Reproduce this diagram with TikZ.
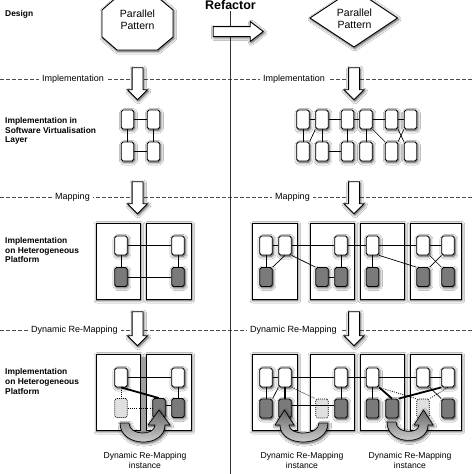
\documentclass[tikz,border=0pt]{standalone}
\usepackage{fontspec}
\setmainfont{Liberation Sans}
\usetikzlibrary{shapes.arrows,shadows.blur,calc}
\begin{document}
\begin{tikzpicture}[x=1pt,y=-1pt,
  sh/.style={blur shadow={shadow xshift=0.9pt,shadow yshift=-1.3pt,shadow blur radius=2.8pt,shadow blur steps=7,shadow opacity=75}},
  wbox/.style={draw,line width=0.8pt,fill=white,rounded corners=1.8pt,minimum width=12.5pt,minimum height=19pt,inner sep=0pt,sh},
  gbox/.style={wbox,fill=black!52},
  ghostbox/.style={draw,line width=0.7pt,dash pattern=on 1pt off 1pt,fill=black!12,rounded corners=1.5pt,minimum width=12.5pt,minimum height=19pt,inner sep=0pt},
  plat/.style={draw,line width=1pt,fill=white,minimum height=76pt,inner sep=0pt,sh},
  conn/.style={line width=0.7pt},
  heavy/.style={line width=1.8pt},
  dotconn/.style={line width=0.7pt,dash pattern=on 1pt off 1.2pt},
  darrow/.style={single arrow,draw,fill=white,line width=0.9pt,text height=10pt,text depth=0pt,text width=0pt,single arrow head extend=4.5pt,inner sep=0pt,rotate=-90,sh},
  rarrow/.style={single arrow,draw,fill=white,line width=0.9pt,text height=9pt,text depth=0pt,text width=0pt,single arrow head extend=5pt,single arrow tip angle=75,inner sep=0pt,minimum height=50pt,sh},
  dline/.style={line width=0.7pt,black!70,dash pattern=on 3.5pt off 2.5pt},
  dlab/.style={fill=white,inner xsep=3pt,inner ysep=1pt,font=\fontsize{9}{10}\selectfont},
  lab/.style={anchor=west,align=left,inner sep=0pt,font=\bfseries\fontsize{8.4}{9.7}\selectfont},
  ilab/.style={align=center,inner sep=0pt,font=\fontsize{8.6}{9.5}\selectfont},
  ptext/.style={align=center,inner sep=0pt,font=\fontsize{10.5}{12}\selectfont},
  outline/.style={draw,line width=0.9pt,fill=white,sh},
  uarrow/.style={draw,line width=0.7pt,top color=black!60,bottom color=black!12,sh},
  sepline/.style={line width=0.8pt,black!80}
]
\clip (0,0) rectangle (474,474);
\fill[white] (0,0) rectangle (474,474);

% level separators
\coordinate (da1) at (0,79);   \coordinate (db1) at (474,79);
\coordinate (da2) at (0,197);  \coordinate (db2) at (474,197);
\coordinate (da3) at (0,330);  \coordinate (db3) at (474,330);
\draw[dline] (da1) -- (db1);
\draw[dline] (da2) -- (db2);
\draw[dline] (da3) -- (db3);

% vertical divider
\coordinate (vtop) at (230,11);
\coordinate (vbot) at (230,474);
\draw[sepline] (vtop) -- (vbot);

\node[dlab] (li1) at (73,79) {Implementation};
\node[dlab] (ri1) at (294,79) {Implementation};
\node[dlab] (lm) at (72.5,197) {Mapping};
\node[dlab] (rm) at (292.5,197) {Mapping};
\node[dlab] (ld) at (74.5,330) {Dynamic Re-Mapping};
\node[dlab] (rd) at (293.5,330) {Dynamic Re-Mapping};

% left labels
\node[lab] (design) at (5,14.3) {Design};
\node[lab] (lsw) at (5,131) {Implementation in\\Software Virtualisation\\Layer};
\node[lab] (lhet1) at (5,250) {Implementation\\on Heterogeneous\\Platform};
\node[lab] (lhet2) at (5,381.5) {Implementation\\on Heterogeneous\\Platform};

% refactor
\node[anchor=base,inner sep=0pt,font=\bfseries\fontsize{12.5}{14}\selectfont] (refac) at (230.5,9.5) {Refactor};
\node[rarrow] (rarr) at (235,31.5) {};

% design shapes
\draw[outline] (102,10) -- (102,37) -- (117,50) -- (157.5,50) -- (173,37) -- (173,10) -- (157.5,-3) -- (117,-3) -- cycle;
\node[ptext] (oct) at (137.5,20) {Parallel\\Pattern};
\draw[outline] (310,18) -- (354,47) -- (397.5,18) -- (354,-11) -- cycle;
\node[ptext] (dia) at (354.5,19) {Parallel\\Pattern};

% down arrows
\node[darrow,minimum height=32pt] (al1) at (137.5,81) {};
\node[darrow,minimum height=32pt] (ar1) at (354,81) {};
\node[darrow,minimum height=32pt] (al2) at (137.5,195) {};
\node[darrow,minimum height=32pt] (ar2) at (354,195) {};
\node[darrow,minimum height=34pt] (al3) at (137.5,326) {};
\node[darrow,minimum height=34pt] (ar3) at (354,326) {};

% ---------- level 2 left
\node[wbox] (s11) at (127.5,119.5) {};
\node[wbox] (s12) at (153.5,119.5) {};
\node[wbox] (s21) at (127.5,151.5) {};
\node[wbox] (s22) at (153.5,151.5) {};
\draw[conn] (s11.east) -- (s12.west);
\draw[conn] (s21.east) -- (s22.west);
\draw[conn] (s11.south) -- (s21.north);
\draw[conn] (s12.south) -- (s22.north);

% ---------- level 2 right
\foreach \i/\x in {1/303,2/322,3/347.5,4/366,5/391.5,6/410.5}{
  \node[wbox] (t\i) at (\x,119.5) {};
  \node[wbox] (u\i) at (\x,151.5) {};
}
\draw[conn] (t1.east) -- (t2.west);
\draw[conn] (t2.east) -- (t3.west);
\draw[conn] (t3.east) -- (t4.west);
\draw[conn] (t4.east) -- (t5.west);
\draw[conn] (t5.east) -- (t6.west);
\draw[conn] (t1.south) -- (u1.north);
\draw[conn] (t2.south west) -- (u1.north east);
\draw[conn] (t2.south) -- (u2.north);
\draw[conn] (u2.east) -- (u3.west);
\draw[conn] (t3.south) -- (u3.north);
\draw[conn] (t4.south) -- (u4.north);
\draw[conn] (t4.south east) -- (u5.north west);
\draw[conn] (t5.south east) -- (u6.north west);
\draw[conn] (t6.south west) -- (u5.north east);

% ---------- level 3 left
\node[plat,minimum width=44pt] (p1) at (118,261) {};
\node[plat,minimum width=45pt] (p2) at (168.5,261) {};
\node[wbox] (a1) at (121,245.5) {};
\node[wbox] (a2) at (178,245.5) {};
\node[gbox] (c1) at (121,277) {};
\node[gbox] (c2) at (178,277) {};
\draw[conn] (a1.east) -- (a2.west);
\draw[conn] (c1.east) -- (c2.west);
\draw[conn] (a1.south) -- (c1.north);
\draw[conn] (a2.south) -- (c2.north);

% ---------- level 3 right
\node[plat,minimum width=45pt] (q1) at (274.5,261) {};
\node[plat,minimum width=44pt] (q2) at (332,261) {};
\node[plat,minimum width=44pt] (q3) at (382,261) {};
\node[plat,minimum width=51pt] (q4) at (435.5,261) {};
\foreach \i/\x in {1/266,2/285,3/341,4/372.5,5/423,6/448}{
  \node[wbox] (A\i) at (\x,245.5) {};
}
\foreach \i/\x in {1/266,2/322,3/341,4/372.5,5/423,6/448}{
  \node[gbox] (B\i) at (\x,277) {};
}
\draw[conn] (A1.east) -- (A2.west);
\draw[conn] (A2.east) -- (A3.west);
\draw[conn] (A3.east) -- (A4.west);
\draw[conn] (A4.east) -- (A5.west);
\draw[conn] (A5.east) -- (A6.west);
\draw[conn] (A1.south) -- (B1.north);
\draw[conn] (A2.south) -- (B1.north east);
\draw[conn] (A2.south east) -- (B2.north west);
\draw[conn] (B2.east) -- (B3.west);
\draw[conn] (A3.south) -- (B3.north);
\draw[conn] (A4.south) -- (B4.north);
\draw[conn] (A4.south east) -- (B5.north west);
\draw[conn] (A5.south east) -- (B6.north west);
\draw[conn] (A6.south west) -- (B5.north east);

% ---------- level 4 left
\node[plat,minimum width=44pt] (p3) at (118,392) {};
\node[plat,minimum width=45pt] (p4) at (168.5,392) {};
\fill[black!38] (140.5,357) rectangle (145.5,434);
\node[wbox] (e1) at (121,377.5) {};
\node[wbox] (e2) at (178,377.5) {};
\node[ghostbox] (eg) at (121,408) {};
\node[gbox] (em) at (159,408) {};
\node[gbox] (e4) at (178,408) {};
\draw[conn] (e1.east) -- (e2.west);
\draw[conn] (e2.south) -- (e4.north);
\draw[heavy] (e1.south) -- (em.north);
\draw[dotconn] (e1.south) -- (eg.north);
\draw[dotconn] (eg.east) -- (em.west);
\draw[conn] ([yshift=3pt]em.east) -- ([yshift=3pt]e4.west);

% ---------- level 4 right
\node[plat,minimum width=45pt] (q5) at (274.5,392) {};
\node[plat,minimum width=44pt] (q6) at (332,392) {};
\node[plat,minimum width=44pt] (q7) at (382,392) {};
\node[plat,minimum width=51pt] (q8) at (435.5,392) {};
\foreach \i/\x in {1/266,2/285,3/341,4/372.5,5/423,6/448}{
  \node[wbox] (F\i) at (\x,377.5) {};
}
\node[gbox] (H1) at (266,408.5) {};
\node[gbox] (M2) at (285,408.5) {};
\node[ghostbox] (G2) at (322,408.5) {};
\node[gbox] (H3) at (341,408.5) {};
\node[gbox] (H4) at (372.5,408.5) {};
\node[gbox] (M5) at (392,408.5) {};
\node[ghostbox] (G5) at (423,408.5) {};
\node[gbox] (H6) at (448,408.5) {};
\draw[conn] (F1.east) -- (F2.west);
\draw[conn] (F2.east) -- (F3.west);
\draw[conn] (F3.east) -- (F4.west);
\draw[conn] (F4.east) -- (F5.west);
\draw[conn] (F5.east) -- (F6.west);
\draw[conn] (F1.south) -- (H1.north);
\draw[conn] (F2.south west) -- (H1.north east);
\draw[heavy] (F2.south) -- (M2.north);
\draw[dotconn] (F2.south east) -- (G2.north west);
\draw[heavy] ([yshift=3pt]M2.east) -- ([yshift=3pt]H3.west);
\draw[conn] (F3.south) -- (H3.north);
\draw[conn] (F4.south) -- (H4.north);
\draw[heavy] (F4.south east) -- (M5.north);
\draw[dotconn] (F4.south east) -- (G5.north west);
\draw[heavy] (M5.north east) -- (F6.south west);
\draw[conn] (F5.south east) -- (H6.north west);
\draw[dotconn] (F6.south) -- (G5.north east);

% ---------- re-mapping arrows
\draw[uarrow] (120,423) .. controls (120,448) and (165,448) .. (165,425) -- (170,425) -- (159,410) -- (148,425) -- (155,425) .. controls (155,436) and (129,436) .. (129,423) -- cycle;
\draw[uarrow] (328,423) .. controls (328,448) and (280,448) .. (280,425) -- (275,425) -- (284.5,410) -- (294,425) -- (289,425) .. controls (289,436) and (319,436) .. (319,423) -- cycle;
\draw[uarrow] (387,422) .. controls (387,446) and (428,446) .. (428,425) -- (433,425) -- (423.5,410) -- (414,425) -- (419,425) .. controls (419,434) and (396,434) .. (396,422) -- cycle;

\node[ilab] (il1) at (145,460.5) {Dynamic Re-Mapping\\instance};
\node[ilab] (il2) at (302,460.5) {Dynamic Re-Mapping\\instance};
\node[ilab] (il3) at (410,460.5) {Dynamic Re-Mapping\\instance};
\end{tikzpicture}
\end{document}
